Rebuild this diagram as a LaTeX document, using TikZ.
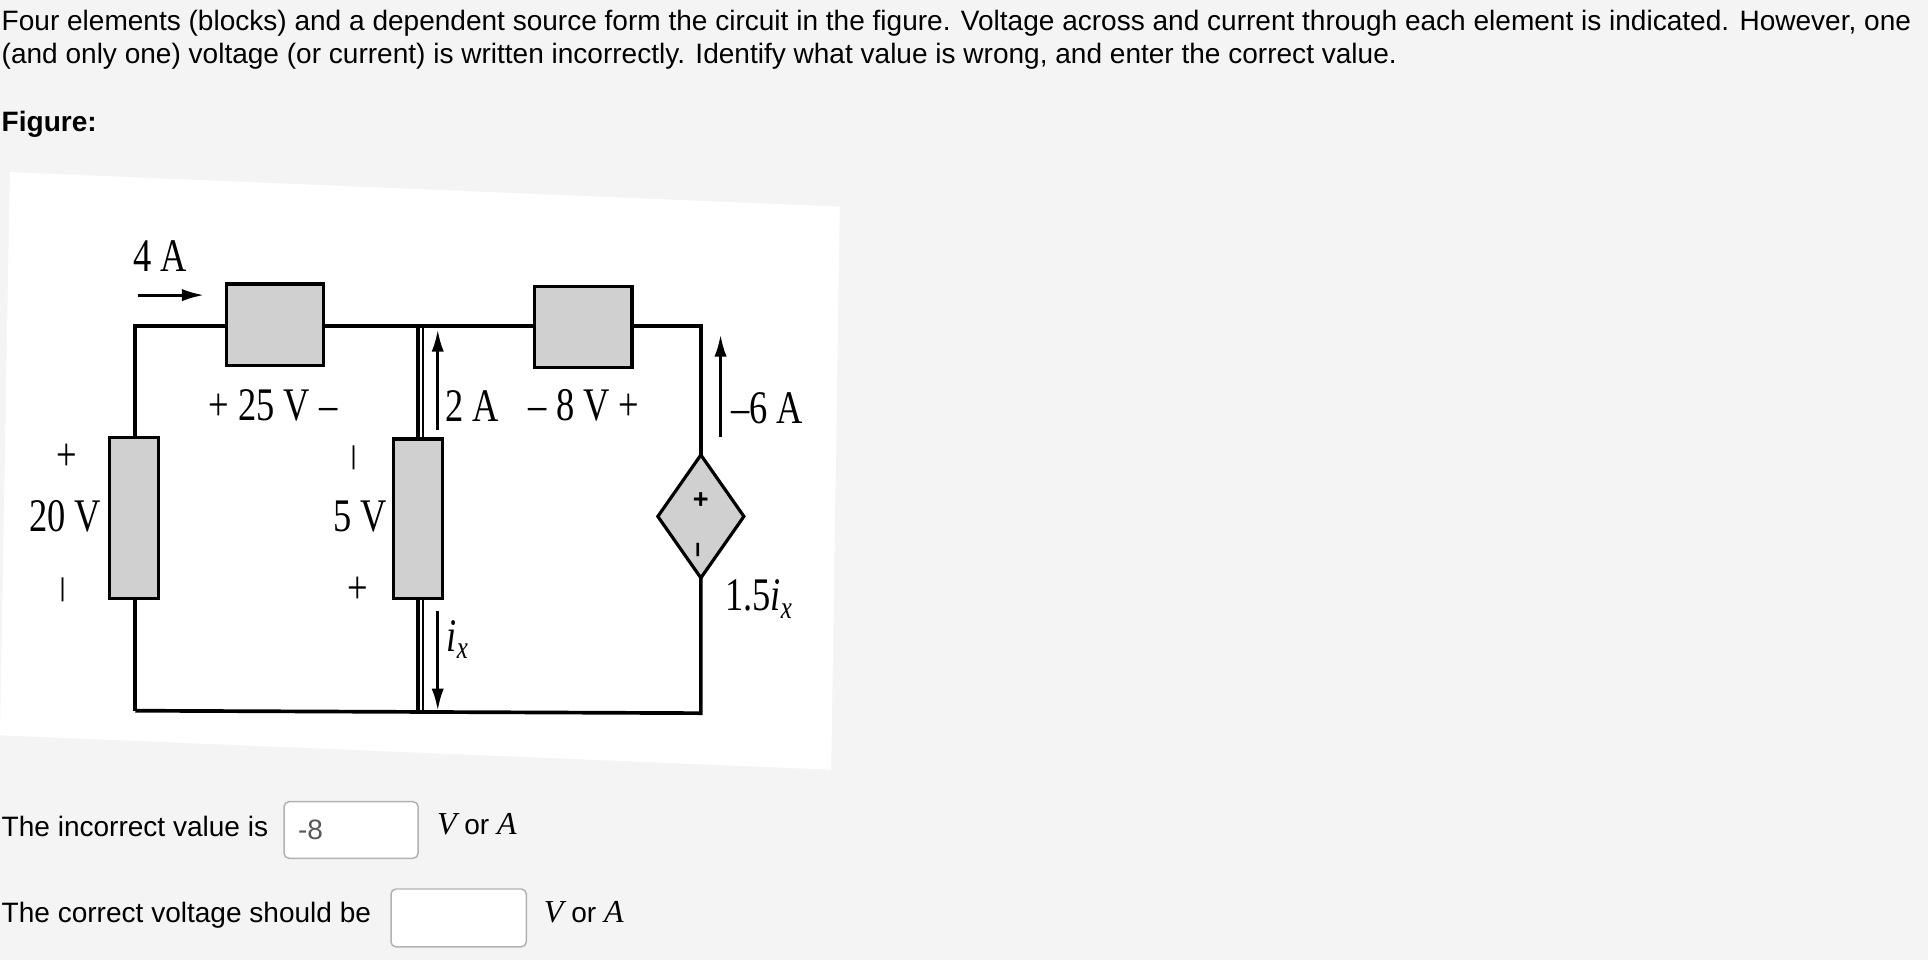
\documentclass[tikz,border=0pt]{standalone}
\usepackage{fontspec}
\setmainfont{Liberation Sans}
\newfontfamily\tms{Liberation Serif}
\usetikzlibrary{arrows.meta}
\definecolor{bg}{HTML}{F4F4F4}
\definecolor{blk}{HTML}{D0D0D0}
\newcommand{\ixlab}{\textit{i}\raisebox{-0.35ex}{\fontsize{13}{13}\selectfont\textit{x}}}
\tikzset{
 wire/.style={line width=1.5pt},
 block/.style={draw,line width=1.3pt,fill=blk},
 lab/.style={font=\tms\fontsize{19}{19}\selectfont,xscale=0.78,inner sep=0},
 txt/.style={font=\fontsize{11.4}{13}\selectfont,anchor=west,inner sep=0},
 arr/.style={line width=1.2pt,-{Latex[length=9pt,width=5pt]}},
 inbox/.style={draw=gray!60,fill=white,rounded corners=2pt,line width=0.6pt}
}
\begin{document}
\begin{tikzpicture}[x=0.5pt,y=-0.5pt]
\fill[bg] (0,0) rectangle (1568,781);
\useasboundingbox (0,0) rectangle (1568,781);
\node[txt] (t1) at (1,19) {Four elements (blocks) and a dependent source form the circuit in the figure. Voltage across and current through each element is indicated. However, one};
\node[txt] (t2) at (1,46) {(and only one) voltage (or current) is written incorrectly. Identify what value is wrong, and enter the correct value.};
\node[txt,font=\bfseries\fontsize{11.4}{13}\selectfont] (fig) at (1,101) {Figure:};
\fill[white] (8,140) -- (683,168) -- (676,626) -- (0,598) -- cycle;
% wires
\draw[wire] (110,578) -- (110,265) -- (570,265) -- (570,370);
\draw[wire] (570,470) -- (570,580) -- (110,578);
\draw[wire] (340,265) -- (340,578);
\draw[line width=0.8pt] (344,265) -- (344,578);
% blocks
\draw[block] (184,231) rectangle (263,297);
\draw[block] (435,233) rectangle (514,299);
\draw[block] (89,356) rectangle (129,487);
\draw[block] (320,357) rectangle (360,487);
\draw[block] (570,370) -- (605,420) -- (570,470) -- (535,420) -- cycle;
\node[inner sep=0,font=\bfseries\fontsize{11}{11}\selectfont] (dp) at (570,407) {+};
\node[inner sep=0,font=\bfseries\fontsize{11}{11}\selectfont,rotate=90] (dm) at (570,447) {–};
% arrows
\coordinate (a1s) at (112,240); \coordinate (a1e) at (166,240);
\draw[arr] (a1s) -- (a1e);
\coordinate (a2s) at (356,350); \coordinate (a2e) at (356,268);
\draw[arr] (a2s) -- (a2e);
\coordinate (a3s) at (586,355); \coordinate (a3e) at (586,272);
\draw[arr] (a3s) -- (a3e);
\coordinate (a4s) at (356,497); \coordinate (a4e) at (356,578);
\draw[arr] (a4s) -- (a4e);
% labels
\node[lab] (l4a) at (130,208) {4 A};
\node[lab] (l25) at (222,330) {+ 25 V –};
\node[lab] (l2a) at (384,330) {2 A};
\node[lab] (l8) at (475,330) {– 8 V +};
\node[lab] (l6a) at (624,332) {–6 A};
\node[lab] (p20) at (54,372) {+};
\node[lab] (l20) at (53,420) {20 V};
\node[lab,rotate=90] (m20) at (54,480) {–};
\node[lab,rotate=90] (m5) at (291,372) {–};
\node[lab] (l5) at (293,420) {5 V};
\node[lab] (p5) at (291,480) {+};
\node[lab] (l15) at (617,487) {1.5\ixlab};
\node[lab] (lix) at (372,520) {\ixlab};
% bottom
\node[txt] (q1) at (1,672) {The incorrect value is};
\draw[inbox] (231,652) rectangle (340,698);
\node[txt,text=gray!70!black] (v1) at (242,675) {-8};
\node[txt] (u1) at (355,670) {{\tms\fontsize{13}{13}\selectfont\itshape V} or {\tms\fontsize{13}{13}\selectfont\itshape A}};
\node[txt] (q2) at (1,744) {The correct voltage should be};
\draw[inbox] (318,723) rectangle (428,770);
\node[txt] (u2) at (442,742) {{\tms\fontsize{13}{13}\selectfont\itshape V} or {\tms\fontsize{13}{13}\selectfont\itshape A}};
\end{tikzpicture}
\end{document}
